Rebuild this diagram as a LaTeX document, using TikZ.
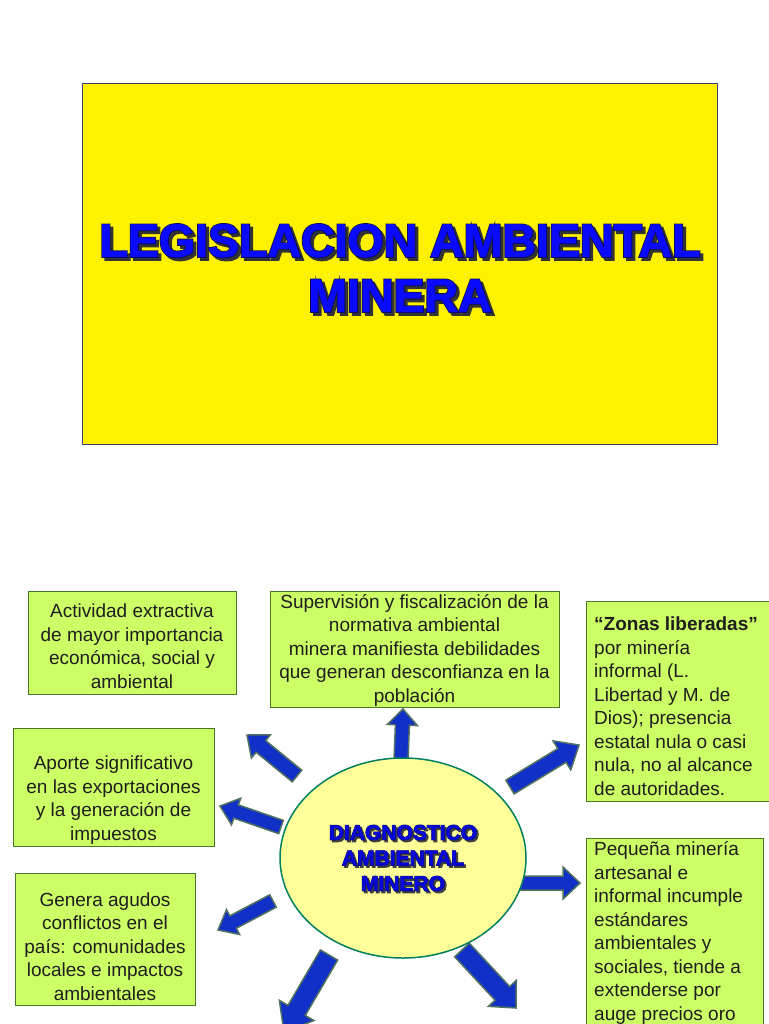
\documentclass[tikz,border=0pt]{standalone}
\usepackage{fontspec}
\setmainfont{Liberation Sans}
\newfontfamily\heavyfont{Liberation Sans Bold}[FakeBold=5]
\newfontfamily\midfont{Liberation Sans Bold}[FakeBold=1.5]
\usetikzlibrary{calc}
\definecolor{boxgreen}{RGB}{204,255,102}
\definecolor{boxborder}{RGB}{70,120,40}
\definecolor{ellfill}{RGB}{255,255,153}
\definecolor{ellborder}{RGB}{0,128,96}
\definecolor{arrowblue}{RGB}{16,48,200}
\definecolor{arrowedge}{RGB}{80,112,96}
\definecolor{titleblue}{RGB}{10,10,255}
\definecolor{titlenavy}{RGB}{10,10,90}
\definecolor{titleedge}{RGB}{60,60,120}
\definecolor{txtgray}{RGB}{30,30,30}
\tikzset{
  gbox/.style={draw=boxborder, fill=boxgreen, line width=1pt, inner sep=0pt},
  btxt/.style={inner sep=0pt, text=txtgray, font=\fontsize{19}{23.5}\selectfont},
  blockarrow/.style={fill=arrowblue, draw=arrowedge, line width=1.5pt, line join=miter},
  ttlheavy/.style={inner sep=0pt, align=center, font=\heavyfont\fontsize{46.5}{55}\selectfont},
  ttlmid/.style={inner sep=0pt, align=center, font=\midfont\fontsize{46.5}{55}\selectfont},
  etlheavy/.style={inner sep=0pt, align=center, font=\heavyfont\fontsize{21}{25.5}\selectfont},
  etlmid/.style={inner sep=0pt, align=center, font=\midfont\fontsize{21}{25.5}\selectfont},
}
\newcommand\barrow[5]{%
  \coordinate (#1-b) at ($(#2)!#5!(#1)$);
  \draw[blockarrow] ($(#1)!#3!90:(#2)$) -- ($(#1-b)!#3!-90:(#1)$) -- ($(#1-b)!#4!-90:(#1)$) -- (#2)
     -- ($(#1-b)!#4!90:(#1)$) -- ($(#1-b)!#3!90:(#1)$) -- ($(#1)!#3!-90:(#2)$) -- cycle;}
\begin{document}
\begin{tikzpicture}[x=1pt,y=-1pt]
\useasboundingbox (0,0) rectangle (768,1024);
\fill[white] (0,0) rectangle (768,1024);

% title box
\node[draw=titleedge, fill=yellow, line width=0.8pt, minimum width=635pt, minimum height=361pt, inner sep=0pt] (titlebox) at (399.5,263.5) {};
\node[ttlheavy, text=black!80] (titleshadow) at (403,271) {LEGISLACION AMBIENTAL\\MINERA};
\node[ttlheavy, text=titlenavy] (titleedge) at (400,268) {LEGISLACION AMBIENTAL\\MINERA};
\node[ttlmid, text=titleblue] (title) at (400,268) {LEGISLACION AMBIENTAL\\MINERA};

% arrows (drawn first, under ellipse)
\coordinate (t1) at (401,760); \coordinate (h1) at (403,709);
\coordinate (t2) at (297,776); \coordinate (h2) at (247,735);
\coordinate (t3) at (281,827); \coordinate (h3) at (220,806);
\coordinate (t4) at (273,901); \coordinate (h4) at (218,930);
\coordinate (t5) at (329,955); \coordinate (h5) at (284,1032);
\coordinate (t6) at (462,950); \coordinate (h6) at (516,1008);
\coordinate (t7) at (518,883); \coordinate (h7) at (580,883);
\coordinate (t8) at (510,787); \coordinate (h8) at (579,745);

\barrow{t1}{h1}{7pt}{15pt}{16pt}
\barrow{t2}{h2}{7.5pt}{15pt}{18pt}
\barrow{t3}{h3}{7pt}{14pt}{17pt}
\barrow{t4}{h4}{7pt}{14pt}{17pt}
\barrow{t5}{h5}{10pt}{20pt}{25pt}
\barrow{t6}{h6}{10pt}{19pt}{20pt}
\barrow{t7}{h7}{7pt}{16pt}{17pt}
\barrow{t8}{h8}{8pt}{17pt}{20pt}

% ellipse
\draw[fill=ellfill, draw=ellborder, line width=1.5pt] (403,858) ellipse [x radius=123pt, y radius=100pt];
\node[etlheavy, text=black!75] (centershadow) at (405,860) {DIAGNOSTICO\\AMBIENTAL\\MINERO};
\node[etlheavy, text=titlenavy] (centeredge) at (403,858) {DIAGNOSTICO\\AMBIENTAL\\MINERO};
\node[etlmid, text=titleblue!85!black] (center) at (403,858) {DIAGNOSTICO\\AMBIENTAL\\MINERO};

% boxes
\node[gbox, minimum width=208pt, minimum height=103pt] (boxA) at (132,642.5) {};
\node[btxt, align=center] (txtA) at (132,646) {Actividad extractiva\\de mayor importancia\\económica, social y\\ambiental};

\node[gbox, minimum width=289pt, minimum height=116pt] (boxB) at (414.5,649) {};
\node[btxt, align=center] (txtB) at (414.5,650) {Supervisión y fiscalización de la\\normativa ambiental\\minera manifiesta debilidades\\que generan desconfianza en la\\población};

\node[gbox, minimum width=184pt, minimum height=200pt] (boxC) at (678,701) {};
\node[btxt, align=left, anchor=west] (txtC) at (594,706) {\textbf{“Zonas liberadas”}\\por minería\\informal (L.\\Libertad y M. de\\Dios); presencia\\estatal nula o casi\\nula, no al alcance\\de autoridades.};

\node[gbox, minimum width=201pt, minimum height=118pt] (boxD) at (113.5,787) {};
\node[btxt, align=center] (txtD) at (113.5,800) {Aporte significativo\\en las exportaciones\\y la generación de\\impuestos};

\node[gbox, minimum width=180pt, minimum height=132pt] (boxE) at (105,939) {};
\node[btxt, align=center] (txtE) at (105,946.5) {Genera agudos\\conflictos en el\\país: comunidades\\locales e impactos\\ambientales};

\node[gbox, minimum width=177pt, minimum height=200pt, anchor=north west] (boxF) at (586,838) {};
\node[btxt, align=left, anchor=west] (txtF) at (594,933) {Pequeña minería\\artesanal e\\informal incumple\\estándares\\ambientales y\\sociales, tiende a\\extenderse por\\auge precios oro};
\end{tikzpicture}
\end{document}
